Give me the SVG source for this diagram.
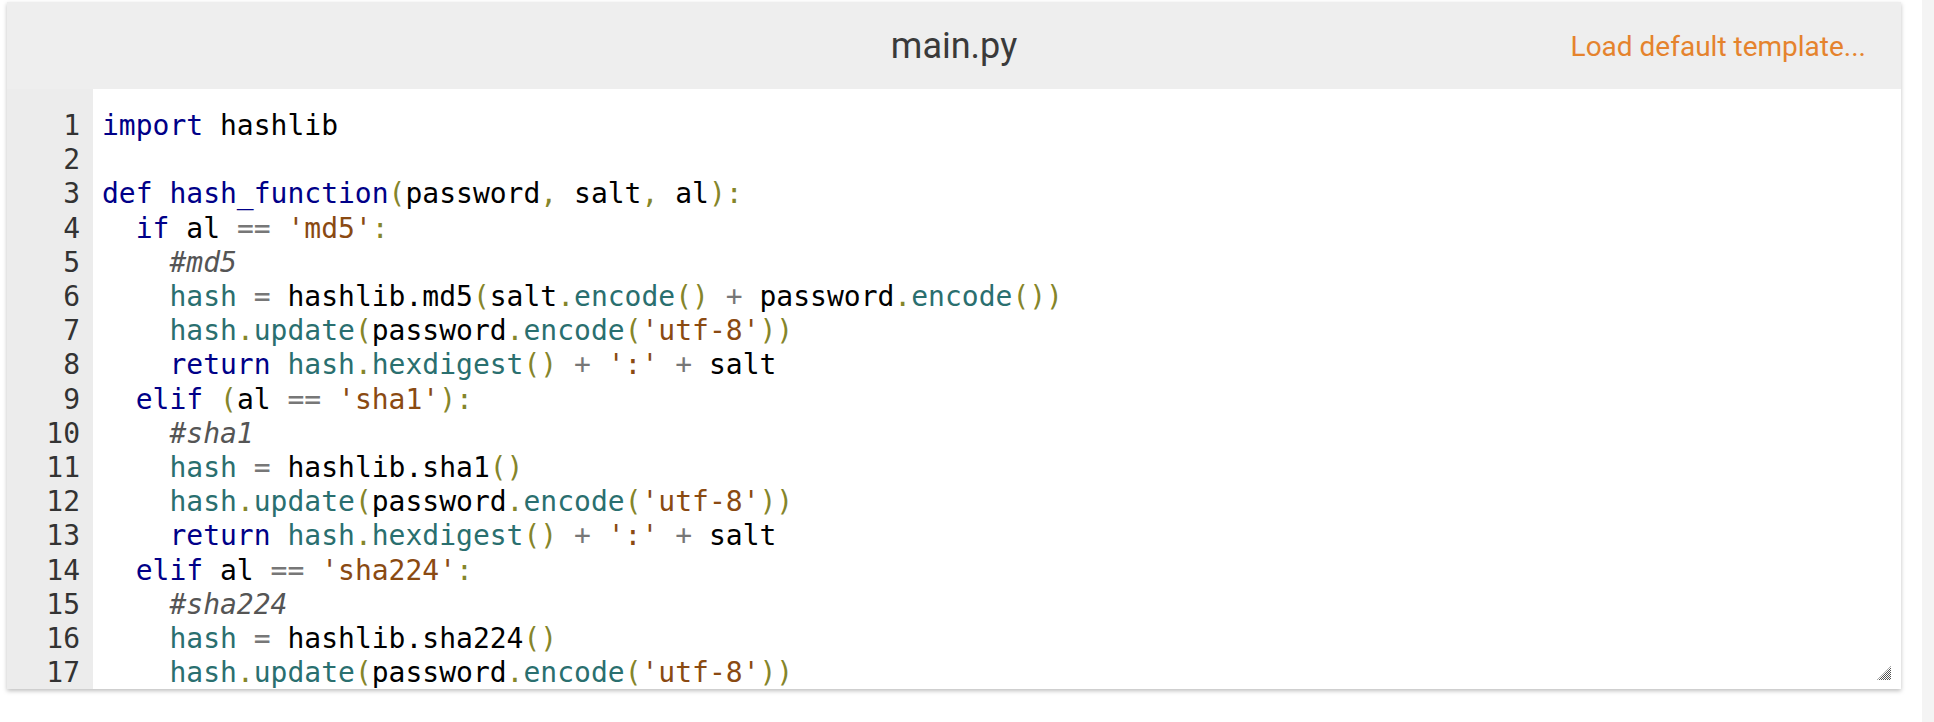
<svg xmlns="http://www.w3.org/2000/svg" width="1934" height="722" viewBox="0 0 1934 722">
<defs>
<filter id="sh" x="-2%" y="-2%" width="104%" height="106%"><feDropShadow dx="0" dy="2" stdDeviation="2" flood-color="#000" flood-opacity="0.25"/></filter>
<pattern id="grip" width="2" height="2" patternUnits="userSpaceOnUse"><rect width="1" height="1" fill="#555"/><rect x="1" y="1" width="1" height="1" fill="#555"/></pattern>
</defs>
<style>
.c{font-family:"DejaVu Sans Mono",monospace;font-size:28px;fill:#000;white-space:pre}
.n{font-family:"DejaVu Sans Mono",monospace;font-size:28px;fill:#333;text-anchor:end}
.k{fill:#000088}.s{fill:#8a4a12}.p{fill:#85852a}.o{fill:#777}.t{fill:#2a6f6f}.m{fill:#555;font-style:italic}
</style>
<rect width="1934" height="722" fill="#fff"/>
<rect x="1922" y="0" width="12" height="722" fill="#f4f4f4"/>
<g id="panel">
<rect x="7" y="2" width="1894" height="687" fill="#fff" filter="url(#sh)"/>
<rect x="7" y="2" width="1894" height="87" fill="#eeeeee"/>
<rect x="7" y="89" width="86" height="600" fill="#ececec"/>
<text x="954" y="58" font-family="Roboto,sans-serif" font-size="36" fill="#3a3a3a" text-anchor="middle">main.py</text>
<text x="1866" y="56" font-family="Roboto,sans-serif" font-size="28" fill="#e5832d" text-anchor="end">Load default template...</text>
<polygon points="1891,666 1891,680 1877,680" fill="url(#grip)"/>
</g>
<g id="code">
<text class="n" x="80" y="135">1</text><text class="c" x="102" y="135"><tspan class="k">import</tspan> hashlib</text>
<text class="n" x="80" y="169">2</text>
<text class="n" x="80" y="203">3</text><text class="c" x="102" y="203"><tspan class="k">def</tspan> <tspan class="k">hash_function</tspan><tspan class="p">(</tspan>password<tspan class="p">,</tspan> salt<tspan class="p">,</tspan> al<tspan class="p">):</tspan></text>
<text class="n" x="80" y="238">4</text><text class="c" x="102" y="238">  <tspan class="k">if</tspan> al <tspan class="o">==</tspan> <tspan class="s">'md5'</tspan><tspan class="p">:</tspan></text>
<text class="n" x="80" y="272">5</text><text class="c" x="102" y="272">    <tspan class="m">#md5</tspan></text>
<text class="n" x="80" y="306">6</text><text class="c" x="102" y="306">    <tspan class="t">hash</tspan> <tspan class="o">=</tspan> hashlib.md5<tspan class="p">(</tspan>salt<tspan class="p">.</tspan><tspan class="t">encode</tspan><tspan class="p">()</tspan> <tspan class="o">+</tspan> password<tspan class="p">.</tspan><tspan class="t">encode</tspan><tspan class="p">())</tspan></text>
<text class="n" x="80" y="340">7</text><text class="c" x="102" y="340">    <tspan class="t">hash</tspan><tspan class="p">.</tspan><tspan class="t">update</tspan><tspan class="p">(</tspan>password<tspan class="p">.</tspan><tspan class="t">encode</tspan><tspan class="p">(</tspan><tspan class="s">'utf-8'</tspan><tspan class="p">))</tspan></text>
<text class="n" x="80" y="374">8</text><text class="c" x="102" y="374">    <tspan class="k">return</tspan> <tspan class="t">hash</tspan><tspan class="p">.</tspan><tspan class="t">hexdigest</tspan><tspan class="p">()</tspan> <tspan class="o">+</tspan> <tspan class="s">':'</tspan> <tspan class="o">+</tspan> salt</text>
<text class="n" x="80" y="409">9</text><text class="c" x="102" y="409">  <tspan class="k">elif</tspan> <tspan class="p">(</tspan>al <tspan class="o">==</tspan> <tspan class="s">'sha1'</tspan><tspan class="p">):</tspan></text>
<text class="n" x="80" y="443">10</text><text class="c" x="102" y="443">    <tspan class="m">#sha1</tspan></text>
<text class="n" x="80" y="477">11</text><text class="c" x="102" y="477">    <tspan class="t">hash</tspan> <tspan class="o">=</tspan> hashlib.sha1<tspan class="p">()</tspan></text>
<text class="n" x="80" y="511">12</text><text class="c" x="102" y="511">    <tspan class="t">hash</tspan><tspan class="p">.</tspan><tspan class="t">update</tspan><tspan class="p">(</tspan>password<tspan class="p">.</tspan><tspan class="t">encode</tspan><tspan class="p">(</tspan><tspan class="s">'utf-8'</tspan><tspan class="p">))</tspan></text>
<text class="n" x="80" y="545">13</text><text class="c" x="102" y="545">    <tspan class="k">return</tspan> <tspan class="t">hash</tspan><tspan class="p">.</tspan><tspan class="t">hexdigest</tspan><tspan class="p">()</tspan> <tspan class="o">+</tspan> <tspan class="s">':'</tspan> <tspan class="o">+</tspan> salt</text>
<text class="n" x="80" y="580">14</text><text class="c" x="102" y="580">  <tspan class="k">elif</tspan> al <tspan class="o">==</tspan> <tspan class="s">'sha224'</tspan><tspan class="p">:</tspan></text>
<text class="n" x="80" y="614">15</text><text class="c" x="102" y="614">    <tspan class="m">#sha224</tspan></text>
<text class="n" x="80" y="648">16</text><text class="c" x="102" y="648">    <tspan class="t">hash</tspan> <tspan class="o">=</tspan> hashlib.sha224<tspan class="p">()</tspan></text>
<text class="n" x="80" y="682">17</text><text class="c" x="102" y="682">    <tspan class="t">hash</tspan><tspan class="p">.</tspan><tspan class="t">update</tspan><tspan class="p">(</tspan>password<tspan class="p">.</tspan><tspan class="t">encode</tspan><tspan class="p">(</tspan><tspan class="s">'utf-8'</tspan><tspan class="p">))</tspan></text>
</g>
<g id="connectors"/>
</svg>
